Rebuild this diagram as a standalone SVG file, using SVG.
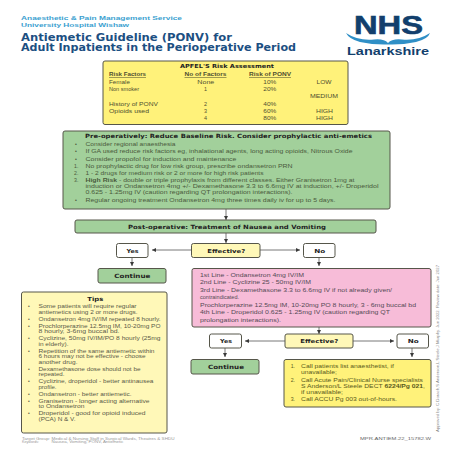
<svg xmlns="http://www.w3.org/2000/svg" width="452" height="452" viewBox="0 0 452 452">
<defs>
<marker id="ah" markerUnits="userSpaceOnUse" markerWidth="5" markerHeight="4" refX="4" refY="2" orient="auto"><path d="M0 0L4 2L0 4Z" fill="#3a3a3a"/></marker>
</defs>
<style>
text{font-family:"Liberation Sans","Open Sans",sans-serif;font-size:5.2px;fill:#4a5a3c}
.h{font-family:"DejaVu Sans","Liberation Sans",sans-serif;font-weight:700;fill:#222}
.box{stroke:#56564a;stroke-width:1}
.g{fill:#a2d09b}
.y{fill:#fff27a}
.p{fill:#f7bcd8}
.ly{fill:#fff8b8}
.w{fill:#fff}
.u{text-decoration:underline}
.c{text-anchor:middle}
.sm{font-size:5.9px;fill:#554a55}
.y2{font-size:5.2px;fill:#5a5a20}
.t{font-size:4.8px;fill:#5a5a48}
.tb{font-size:5.4px;fill:#4f4f30}
.ft{font-size:3px;fill:#999}
.btn{font-size:5.4px}
.cn{font-size:5.8px}
.hd{font-size:5.6px;font-weight:700;fill:#3a9fd0}
.ti{font-size:9.6px;fill:#1c4f82}
</style>
<g id="header">
<text x="21" y="19.500" class="hd" textLength="161" lengthAdjust="spacingAndGlyphs">Anaesthetic &amp; Pain Management Service</text>
<text x="21" y="27" class="hd" textLength="108" lengthAdjust="spacingAndGlyphs">University Hospital Wishaw</text>
<text x="21" y="41" class="h ti" textLength="211" lengthAdjust="spacingAndGlyphs">Antiemetic Guideline (PONV) for</text>
<text x="21" y="51" class="h ti" textLength="275" lengthAdjust="spacingAndGlyphs">Adult Inpatients in the Perioperative Period</text>
</g>
<g id="logo">
<text x="354" y="34" style="font-size:25px;font-weight:700;fill:#123f6d;stroke:#123f6d;stroke-width:0.6" textLength="69" lengthAdjust="spacingAndGlyphs">NHS</text>
<path d="M346 33Q358 41 374 39.500Q384 38.500 388 43Q392 38.500 402 39.500Q418 41 430 33Q428 39 416 42Q402 45 388 44.500Q374 45 360 42Q349 39 346 33Z" fill="#2f8fc6"/>
<text x="347" y="55" style="font-size:10.500px;font-weight:700;fill:#123f6d" textLength="82" lengthAdjust="spacingAndGlyphs">Lanarkshire</text>
</g>
<g id="connectors" fill="none" stroke="#555" stroke-width="0.8">
<path d="M226 209V220" marker-end="url(#ah)"/>
<path d="M226 233V243" marker-end="url(#ah)"/>
<path d="M191 250H152" marker-end="url(#ah)"/>
<path d="M260 250H300" marker-end="url(#ah)"/>
<path d="M132 257V266" marker-end="url(#ah)"/>
<path d="M319 258V266" marker-end="url(#ah)"/>
<path d="M319 327V334" marker-end="url(#ah)"/>
<path d="M285 341H245" marker-end="url(#ah)"/>
<path d="M353 341H394" marker-end="url(#ah)"/>
<path d="M225 348V357" marker-end="url(#ah)"/>
<path d="M412 348V357" marker-end="url(#ah)"/>
</g>
<g id="risk-assessment">
<rect class="box y" x="103" y="61" width="245" height="63.500" rx="2"/>
<text class="h" x="180" y="68" style="font-size:5.500px" textLength="94" lengthAdjust="spacingAndGlyphs">APFEL'S Risk Assessment</text>
<text class="tb u" x="109" y="76" style="font-weight:700" textLength="37" lengthAdjust="spacingAndGlyphs">Risk Factors</text>
<text class="tb u" x="184.500" y="76" style="font-weight:700" textLength="42" lengthAdjust="spacingAndGlyphs">No of Factors</text>
<text class="tb u" x="249" y="76" style="font-weight:700" textLength="42" lengthAdjust="spacingAndGlyphs">Risk of PONV</text>
<text class="tb" x="109" y="84" textLength="21" lengthAdjust="spacingAndGlyphs">Female</text><text class="tb" x="197.300" y="84" textLength="17" lengthAdjust="spacingAndGlyphs">None</text><text class="tb" x="263.300" y="84" textLength="13" lengthAdjust="spacingAndGlyphs">10%</text><text class="tb" x="316.500" y="84" textLength="15" lengthAdjust="spacingAndGlyphs">LOW</text>
<text class="tb" x="109" y="91" textLength="30" lengthAdjust="spacingAndGlyphs">Non smoker</text><text class="tb c" x="205.500" y="91">1</text><text class="tb" x="263.300" y="91" textLength="13" lengthAdjust="spacingAndGlyphs">20%</text>
<text class="tb" x="310" y="98" textLength="28" lengthAdjust="spacingAndGlyphs">MEDIUM</text>
<text class="tb" x="109" y="105.500" textLength="49" lengthAdjust="spacingAndGlyphs">History of PONV</text><text class="tb c" x="205.500" y="105.500">2</text><text class="tb" x="263.300" y="105.500" textLength="13" lengthAdjust="spacingAndGlyphs">40%</text>
<text class="tb" x="109" y="112.500" textLength="40" lengthAdjust="spacingAndGlyphs">Opioids used</text><text class="tb c" x="205.500" y="112.500">3</text><text class="tb" x="263.300" y="112.500" textLength="13" lengthAdjust="spacingAndGlyphs">60%</text><text class="tb" x="316" y="112.500" textLength="17" lengthAdjust="spacingAndGlyphs">HIGH</text>
<text class="tb c" x="205.500" y="120">4</text><text class="tb" x="263.300" y="120" textLength="13" lengthAdjust="spacingAndGlyphs">80%</text><text class="tb" x="316" y="120" textLength="17" lengthAdjust="spacingAndGlyphs">HIGH</text>
</g>
<g id="pre-op">
<rect class="box g" x="63" y="131" width="327" height="78" rx="2"/>
<text class="h" x="85" y="137.500" style="font-size:5.700px" textLength="287" lengthAdjust="spacingAndGlyphs">Pre-operatively: Reduce Baseline Risk. Consider prophylactic anti-emetics</text>
<text x="75" y="146">•</text><text x="85.500" y="146" textLength="90" lengthAdjust="spacingAndGlyphs">Consider regional anaesthesia</text>
<text x="75" y="153">•</text><text x="85.500" y="153" textLength="267" lengthAdjust="spacingAndGlyphs">If GA used reduce risk factors eg, inhalational agents, long acting opioids, Nitrous Oxide</text>
<text x="75" y="160.500">•</text><text x="85.500" y="160.500" textLength="151" lengthAdjust="spacingAndGlyphs">Consider propofol for induction and maintenance</text>
<text x="74" y="167.500">1.</text><text x="85.500" y="167.500" textLength="207" lengthAdjust="spacingAndGlyphs">No prophylactic drug for low risk group, prescribe ondansetron PRN</text>
<text x="74" y="175">2.</text><text x="85.500" y="175" textLength="178" lengthAdjust="spacingAndGlyphs">1 - 2 drugs for medium risk or 2 or more for high risk patients</text>
<text x="74" y="182">3.</text><text x="85.500" y="182" textLength="269" lengthAdjust="spacingAndGlyphs"><tspan style="font-weight:700">High Risk</tspan> - double or triple prophylaxis from different classes. Either Granisetron 1mg at</text>
<text x="85.500" y="188.200" textLength="293" lengthAdjust="spacingAndGlyphs">induction or Ondansetron 4mg  +/- Dexamethasone 3.3 to 6.6mg IV at induction, +/- Droperidol</text>
<text x="85.500" y="194.400" textLength="207" lengthAdjust="spacingAndGlyphs">0.625 - 1.25mg IV (caution regarding QT prolongation interactions).</text>
<text x="75" y="202">•</text><text x="85.500" y="202" textLength="250" lengthAdjust="spacingAndGlyphs">Regular ongoing treatment Ondansetron 4mg three times daily iv for up to 5 days.</text>
</g>
<g id="post-op">
<rect class="box g" x="75" y="220" width="301" height="13" rx="2"/>
<text class="h" x="128" y="228.500" style="font-size:5.700px" textLength="198" lengthAdjust="spacingAndGlyphs">Post-operative: Treatment of Nausea and Vomiting</text>
</g>
<g id="yes-1"><rect class="box w" x="116.500" y="243.500" width="31.500" height="14" rx="2"/><text class="h btn" x="126.500" y="252.500" textLength="12" lengthAdjust="spacingAndGlyphs">Yes</text></g>
<g id="effective-1"><rect class="box ly" x="191.500" y="243.500" width="68.500" height="14" rx="2"/><text class="h btn" x="207.300" y="252.500" textLength="38" lengthAdjust="spacingAndGlyphs">Effective?</text></g>
<g id="no-1"><rect class="box w" x="303.500" y="243.500" width="31.500" height="14" rx="2"/><text class="h btn" x="314.300" y="252.500" textLength="11" lengthAdjust="spacingAndGlyphs">No</text></g>
<g id="continue-1"><rect class="box g" x="98" y="268.500" width="68" height="14.500" rx="2"/><text class="h cn" x="114.300" y="278" textLength="36" lengthAdjust="spacingAndGlyphs">Continue</text></g>
<g id="tips">
<rect class="box ly" x="21.500" y="292" width="145.500" height="141" rx="2"/>
<text class="h" x="87.300" y="300.500" style="font-size:5.600px" textLength="16" lengthAdjust="spacingAndGlyphs">Tips</text>
<text class="t" x="28" y="308">•</text><text class="t" x="38.500" y="308" textLength="98" lengthAdjust="spacingAndGlyphs">Some patients will require regular</text>
<text class="t" x="38.500" y="313.500" textLength="99" lengthAdjust="spacingAndGlyphs">antiemetics using 2 or more drugs.</text>
<text class="t" x="28" y="320.500">•</text><text class="t" x="38.500" y="320.500" textLength="122" lengthAdjust="spacingAndGlyphs">Ondansetron 4mg IV/IM repeated 8 hourly.</text>
<text class="t" x="28" y="327.500">•</text><text class="t" x="38.500" y="327.500" textLength="122" lengthAdjust="spacingAndGlyphs">Prochlorperazine 12.5mg IM, 10-20mg PO</text>
<text class="t" x="38.500" y="333" textLength="81" lengthAdjust="spacingAndGlyphs">8 hourly, 3-6mg buccal bd.</text>
<text class="t" x="28" y="340">•</text><text class="t" x="38.500" y="340" textLength="122" lengthAdjust="spacingAndGlyphs">Cyclizine, 50mg IV/IM/PO 8 hourly (25mg</text>
<text class="t" x="38.500" y="345.500" textLength="30" lengthAdjust="spacingAndGlyphs">in elderly).</text>
<text class="t" x="28" y="352.500">•</text><text class="t" x="38.500" y="352.500" textLength="116" lengthAdjust="spacingAndGlyphs">Repetition of the same antiemetic within</text>
<text class="t" x="38.500" y="358" textLength="107" lengthAdjust="spacingAndGlyphs">6 hours may not be effective - choose</text>
<text class="t" x="38.500" y="363.500" textLength="39" lengthAdjust="spacingAndGlyphs">another drug.</text>
<text class="t" x="28" y="370.500">•</text><text class="t" x="38.500" y="370.500" textLength="102" lengthAdjust="spacingAndGlyphs">Dexamethasone dose should not be</text>
<text class="t" x="38.500" y="376" textLength="26" lengthAdjust="spacingAndGlyphs">repeated.</text>
<text class="t" x="28" y="383">•</text><text class="t" x="38.500" y="383" textLength="115" lengthAdjust="spacingAndGlyphs">Cyclizine, droperidol - better antinausea</text>
<text class="t" x="38.500" y="388.500" textLength="18" lengthAdjust="spacingAndGlyphs">profile.</text>
<text class="t" x="28" y="395.500">•</text><text class="t" x="38.500" y="395.500" textLength="93" lengthAdjust="spacingAndGlyphs">Ondansetron - better antiemetic.</text>
<text class="t" x="28" y="402.500">•</text><text class="t" x="38.500" y="402.500" textLength="111" lengthAdjust="spacingAndGlyphs">Granisetron - longer acting  alternative</text>
<text class="t" x="38.500" y="408" textLength="46" lengthAdjust="spacingAndGlyphs">to Ondansetron</text>
<text class="t" x="28" y="415">•</text><text class="t" x="38.500" y="415" textLength="107" lengthAdjust="spacingAndGlyphs">Droperidol - good for opioid induced</text>
<text class="t" x="38.500" y="420.500" textLength="37" lengthAdjust="spacingAndGlyphs">(PCA) N &amp; V.</text>
</g>
<g id="second-line">
<rect class="box p" x="192" y="268.500" width="239" height="58.500" rx="2"/>
<text class="sm" x="200" y="276.700" textLength="104" lengthAdjust="spacingAndGlyphs">1st Line - Ondansetron 4mg IV/IM</text>
<text class="sm" x="200" y="284.300" textLength="111" lengthAdjust="spacingAndGlyphs">2nd Line - Cyclizine 25 - 50mg IV/IM</text>
<text class="sm" x="200" y="291.700" textLength="192" lengthAdjust="spacingAndGlyphs">3rd Line - Dexamethasone 3.3 to 6.6mg IV if not already given/</text>
<text class="sm" x="200" y="299.300" textLength="39" lengthAdjust="spacingAndGlyphs">contraindicated.</text>
<text class="sm" x="200" y="306.700" textLength="216" lengthAdjust="spacingAndGlyphs">Prochlorperazine 12.5mg IM, 10-20mg PO 8 hourly, 3 - 6mg buccal bd</text>
<text class="sm" x="200" y="314" textLength="190" lengthAdjust="spacingAndGlyphs">4th Line - Droperidol 0.625 - 1.25mg IV (caution regarding QT</text>
<text class="sm" x="200" y="321.700" textLength="81" lengthAdjust="spacingAndGlyphs">prolongation interactions).</text>
</g>
<g id="yes-2"><rect class="box w" x="209.500" y="334" width="32" height="14" rx="2"/><text class="h btn" x="220" y="343.300" textLength="12" lengthAdjust="spacingAndGlyphs">Yes</text></g>
<g id="effective-2"><rect class="box ly" x="285" y="334" width="68" height="14" rx="2"/><text class="h btn" x="300.300" y="343.300" textLength="38" lengthAdjust="spacingAndGlyphs">Effective?</text></g>
<g id="no-2"><rect class="box w" x="397" y="334" width="31.500" height="14" rx="2"/><text class="h btn" x="407.700" y="343.300" textLength="11" lengthAdjust="spacingAndGlyphs">No</text></g>
<g id="continue-2"><rect class="box g" x="191" y="359.500" width="68" height="14.500" rx="2"/><text class="h cn" x="208" y="369" textLength="36" lengthAdjust="spacingAndGlyphs">Continue</text></g>
<g id="escalation">
<rect class="box y" x="284" y="359.500" width="147" height="47.500" rx="2"/>
<text class="y2" x="290.700" y="367.700">1.</text><text class="y2" x="301" y="367.700" textLength="93" lengthAdjust="spacingAndGlyphs">Call patients list anaesthetist, if</text>
<text class="y2" x="301" y="374" textLength="36" lengthAdjust="spacingAndGlyphs">unavailable;</text>
<text class="y2" x="290.700" y="381.700">2.</text><text class="y2" x="301" y="381.700" textLength="122" lengthAdjust="spacingAndGlyphs">Call Acute Pain/Clinical Nurse specialists</text>
<text class="y2" x="301" y="388" textLength="124" lengthAdjust="spacingAndGlyphs">S Anderson/L Steele DECT <tspan style="font-weight:700">6224/Pg 021</tspan>,</text>
<text class="y2" x="301" y="394.200" textLength="42" lengthAdjust="spacingAndGlyphs">if unavailable;</text>
<text class="y2" x="290.700" y="401.300">3.</text><text class="y2" x="301" y="401.300" textLength="96" lengthAdjust="spacingAndGlyphs">Call ACCU Pg 003 out-of-hours.</text>
</g>
<g id="footer">
<text class="ft" x="22" y="439.500" textLength="28" lengthAdjust="spacingAndGlyphs">Target Group:</text><text class="ft" x="51.500" y="439.500" textLength="123" lengthAdjust="spacingAndGlyphs">Medical &amp; Nursing Staff in Surgical Wards, Theatres &amp; SHDU</text>
<text class="ft" x="22" y="443" textLength="17" lengthAdjust="spacingAndGlyphs">Keywords:</text><text class="ft" x="51.500" y="443" textLength="72" lengthAdjust="spacingAndGlyphs">Nausea, Vomiting, PONV, Antiemetic</text>
<text x="360" y="439.500" style="font-size:4px;fill:#666" textLength="71" lengthAdjust="spacingAndGlyphs">MPR.ANTIEM.22_15782.W</text>
<text transform="translate(438.500 432) rotate(-90)" style="font-size:4.300px;fill:#888" textLength="167" lengthAdjust="spacingAndGlyphs">Approved by: C Dorach,S Anderson,L Steele,J Murphy. Jun 2022. Review date: Jun 2027</text>
</g>
</svg>
